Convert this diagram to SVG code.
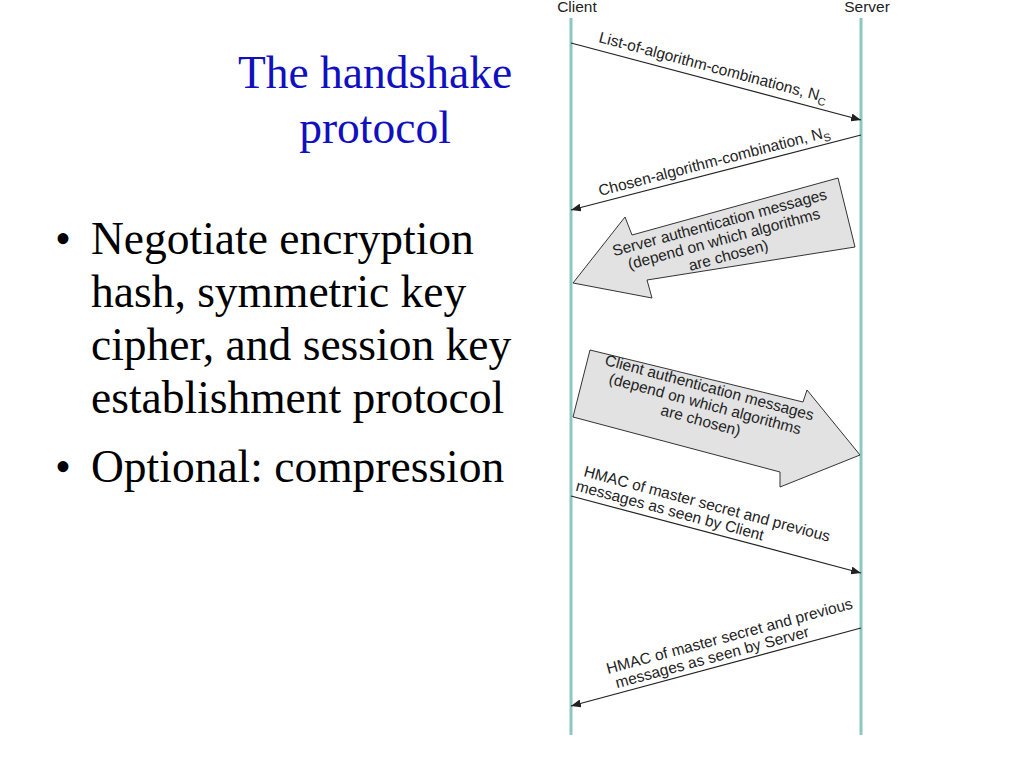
<svg xmlns="http://www.w3.org/2000/svg" width="1024" height="768" viewBox="0 0 1024 768">
<defs>
<marker id="ah" markerWidth="10" markerHeight="8" refX="10" refY="4" orient="auto" markerUnits="userSpaceOnUse"><path d="M0,0 L10,4 L0,8 z" fill="#222"/></marker>
<style>
.life{stroke:#8cc7c0;stroke-width:3}
.msg{stroke:#222;stroke-width:1.2;fill:none;marker-end:url(#ah)}
.lbl{font-family:"Liberation Sans",Arial,sans-serif;font-size:15.5px;fill:#222}
.big{fill:#e2e2e2;stroke:#333;stroke-width:1}
.ttl{font-family:"Liberation Serif","Times New Roman",serif;font-size:45.5px;fill:#1010c0}
.body{font-family:"Liberation Serif","Times New Roman",serif;font-size:45.5px;fill:#000}
</style>
</defs>
<rect width="1024" height="768" fill="#fff"/>
<g id="title"><text class="ttl" x="375" y="88" text-anchor="middle">The handshake</text><text class="ttl" x="375" y="143" text-anchor="middle">protocol</text></g>
<g id="bullets">
<text class="body" x="55" y="254">•</text><text class="body" x="91" y="254">Negotiate encryption</text>
<text class="body" x="91" y="307">hash, symmetric key</text>
<text class="body" x="91" y="360">cipher, and session key</text>
<text class="body" x="91" y="413">establishment protocol</text>
<text class="body" x="55" y="482">•</text><text class="body" x="91" y="482">Optional: compression</text>
</g>
<g id="client"><line class="life" x1="571" y1="18" x2="571" y2="735"/><text class="lbl" x="577" y="12" text-anchor="middle">Client</text></g>
<g id="server"><line class="life" x1="861" y1="18" x2="861" y2="735"/><text class="lbl" x="867" y="12" text-anchor="middle">Server</text></g>
<g id="connectors">
<line class="msg" x1="571" y1="43" x2="861" y2="120"/>
<line class="msg" x1="861" y1="135" x2="571" y2="210"/>
<line class="msg" x1="571" y1="496" x2="861" y2="573"/>
<line class="msg" x1="861" y1="628" x2="571" y2="706"/>
<polygon class="big" points="838,178 632,235 625,217 573,283 652,298 647,280 855,247"/>
<polygon class="big" points="590,350 803,402 807,390 860,455 780,487 780,472 573,417"/>
</g>
<g id="labels">
<text class="lbl" transform="translate(598,42) rotate(14.9)">List-of-algorithm-combinations, N<tspan font-size="11" dy="4">C</tspan></text>
<text class="lbl" transform="translate(600,196) rotate(-14.5)">Chosen-algorithm-combination, N<tspan font-size="11" dy="4">S</tspan></text>
<g transform="translate(725,243) rotate(-15)" text-anchor="middle">
<text class="lbl" x="0" y="-16">Server authentication messages</text>
<text class="lbl" x="0" y="1">(depend on which algorithms</text>
<text class="lbl" x="0" y="18">are chosen)</text></g>
<g transform="translate(704,408) rotate(15)" text-anchor="middle">
<text class="lbl" x="0" y="-16">Client authentication messages</text>
<text class="lbl" x="0" y="1">(depend on which algorithms</text>
<text class="lbl" x="0" y="18">are chosen)</text></g>
<g transform="translate(583,476) rotate(15)">
<text class="lbl" x="0" y="0">HMAC of master secret and previous</text>
<text class="lbl" x="-4" y="16">messages as seen by Client</text></g>
<g transform="translate(608,674) rotate(-15)">
<text class="lbl" x="0" y="0">HMAC of master secret and previous</text>
<text class="lbl" x="5" y="16">messages as seen by Server</text></g>
</g>
</svg>
